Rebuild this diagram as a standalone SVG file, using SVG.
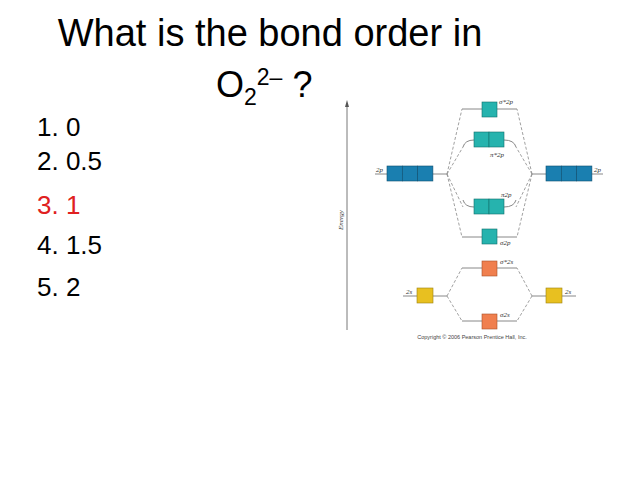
<svg xmlns="http://www.w3.org/2000/svg" width="638" height="479" viewBox="0 0 638 479">
<style>
.t{font-family:"Liberation Sans",Arial,sans-serif;fill:#000}
.l{font-family:"Liberation Sans",Arial,sans-serif;font-size:26px;fill:#000}
.s{font-family:"Liberation Serif",serif;font-size:7px;font-style:italic;fill:#333}
.ln{stroke:#888;stroke-width:1;fill:none}
.d{stroke:#888;stroke-width:0.8;stroke-dasharray:3,2;fill:none}
.b{fill:#1a7fb0;stroke:#0d4d6e;stroke-width:0.6}
.c{fill:#26b3ae;stroke:#13706c;stroke-width:0.6}
.o{fill:#f07f4e;stroke:#a8502a;stroke-width:0.6}
.y{fill:#e8c020;stroke:#9c8010;stroke-width:0.6}
</style>
<rect width="638" height="479" fill="#fff"/>
<text class="t" x="270" y="46" font-size="38" text-anchor="middle">What is the bond order in</text>
<text class="t" x="216" y="97" font-size="36">O<tspan font-size="23" dy="8">2</tspan><tspan font-size="23" dy="-20">2–</tspan><tspan dy="12"> ?</tspan></text>
<g id="answers">
<text class="l" x="37" y="136">1. 0</text>
<text class="l" x="37" y="170">2. 0.5</text>
<text class="l" x="37" y="214" style="fill:#e02020">3. 1</text>
<text class="l" x="37" y="254">4. 1.5</text>
<text class="l" x="37" y="296">5. 2</text>
</g>
<g id="energy-axis">
<line x1="347" y1="330" x2="347" y2="106" stroke="#555" stroke-width="0.8"/>
<polygon points="347,100 345,107 349,107" fill="#555"/>
<text class="s" font-style="normal" x="0" y="0" transform="translate(343,230) rotate(-90)" font-size="8">Energy</text>
</g>
<g id="connectors">
<path class="d" d="M447,174 L462,109 M447,174 L463,147 M447,174 L463,207 M447,174 L462,237"/>
<path class="d" d="M532,174 L517,109 M532,174 L516,147 M532,174 L516,207 M532,174 L517,237"/>
<path class="d" d="M447,296 L462,268 M447,296 L462,321 M532,296 L517,268 M532,296 L517,321"/>
</g>
<g id="ao-2p-left">
<line class="ln" x1="375" y1="174" x2="447" y2="174"/>
<rect class="b" x="387" y="166" width="15.3" height="15"/><rect class="b" x="402.3" y="166" width="15.3" height="15"/><rect class="b" x="417.6" y="166" width="15.3" height="15"/>
<text class="s" x="376" y="172">2p</text>
</g>
<g id="ao-2p-right">
<line class="ln" x1="532" y1="174" x2="603" y2="174"/>
<rect class="b" x="546" y="166" width="15.3" height="15"/><rect class="b" x="561.3" y="166" width="15.3" height="15"/><rect class="b" x="576.6" y="166" width="15.3" height="15"/>
<text class="s" x="594" y="172">2p</text>
</g>
<g id="mo-sigma-star-2p">
<line class="ln" x1="462" y1="109" x2="517" y2="109"/>
<rect class="c" x="482" y="102" width="15" height="15"/>
<text class="s" x="499" y="104">σ*2p</text>
</g>
<g id="mo-pi-star-2p">
<path class="ln" d="M463,147 Q465,140 474,140 M504,140 Q514,140 516,147"/>
<rect class="c" x="474" y="132" width="15" height="15"/><rect class="c" x="489" y="132" width="15" height="15"/>
<text class="s" x="490" y="157">π*2p</text>
</g>
<g id="mo-pi-2p">
<path class="ln" d="M463,200 Q465,207 474,207 M504,207 Q514,207 516,200"/>
<rect class="c" x="474" y="199" width="15" height="15"/><rect class="c" x="489" y="199" width="15" height="15"/>
<text class="s" x="501" y="197">π2p</text>
</g>
<g id="mo-sigma-2p">
<line class="ln" x1="462" y1="237" x2="517" y2="237"/>
<rect class="c" x="482" y="229" width="15" height="15"/>
<text class="s" x="500" y="245">σ2p</text>
</g>
<g id="mo-sigma-star-2s">
<line class="ln" x1="462" y1="268" x2="517" y2="268"/>
<rect class="o" x="482" y="261" width="15" height="15"/>
<text class="s" x="500" y="264">σ*2s</text>
</g>
<g id="ao-2s-left">
<line class="ln" x1="403" y1="296" x2="447" y2="296"/>
<rect class="y" x="417" y="288" width="16" height="15"/>
<text class="s" x="406" y="294">2s</text>
</g>
<g id="ao-2s-right">
<line class="ln" x1="532" y1="296" x2="576" y2="296"/>
<rect class="y" x="546" y="288" width="16" height="15"/>
<text class="s" x="565" y="294">2s</text>
</g>
<g id="mo-sigma-2s">
<line class="ln" x1="462" y1="321" x2="517" y2="321"/>
<rect class="o" x="482" y="314" width="15" height="15"/>
<text class="s" x="500" y="317">σ2s</text>
</g>
<text x="472" y="339" font-family="Liberation Sans,Arial,sans-serif" font-size="5.5" fill="#444" text-anchor="middle">Copyright © 2006 Pearson Prentice Hall, Inc.</text>
</svg>
